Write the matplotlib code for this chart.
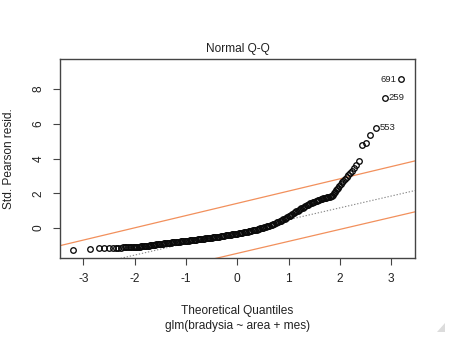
import matplotlib
matplotlib.use("Agg")
import matplotlib.pyplot as plt
from matplotlib.patches import Polygon

plt.rcParams['font.family'] = ['Liberation Sans', 'DejaVu Sans']

# ---- data ----
# lower tail (individually visible circles)
tail_low_q = [-3.20, -2.87, -2.70, -2.59, -2.50, -2.43, -2.37, -2.32, -2.27, -2.23,
              -2.19, -2.16, -2.13, -2.10, -2.07, -2.04, -2.02, -1.99, -1.97]
tail_low_r = [-1.28, -1.19, -1.15, -1.145, -1.14, -1.135, -1.13, -1.13, -1.125, -1.12,
              -1.12, -1.115, -1.11, -1.105, -1.10, -1.10, -1.095, -1.09, -1.088]

# dense central band
mid_q = [-1.950, -1.925, -1.900, -1.875, -1.850, -1.825, -1.800, -1.775, -1.750, -1.725,
         -1.700, -1.675, -1.650, -1.625, -1.600, -1.575, -1.550, -1.525, -1.500, -1.475,
         -1.450, -1.425, -1.400, -1.375, -1.350, -1.325, -1.300, -1.275, -1.250, -1.225,
         -1.200, -1.175, -1.150, -1.125, -1.100, -1.075, -1.050, -1.025, -1.000, -0.975,
         -0.950, -0.925, -0.900, -0.875, -0.850, -0.825, -0.800, -0.775, -0.750, -0.725,
         -0.700, -0.675, -0.650, -0.625, -0.600, -0.575, -0.550, -0.525, -0.500, -0.475,
         -0.450, -0.425, -0.400, -0.375, -0.350, -0.325, -0.300, -0.275, -0.250, -0.225,
         -0.200, -0.175, -0.150, -0.125, -0.100, -0.075, -0.050, -0.025, 0.000, 0.025,
         0.050, 0.075, 0.100, 0.125, 0.150, 0.175, 0.200, 0.225, 0.250, 0.275,
         0.300, 0.325, 0.350, 0.375, 0.400, 0.425, 0.450, 0.475, 0.500, 0.525,
         0.550, 0.575, 0.600, 0.625, 0.650, 0.675, 0.700, 0.725, 0.750, 0.775,
         0.800, 0.825, 0.850, 0.875, 0.900, 0.925, 0.950, 0.975, 1.000, 1.025,
         1.050, 1.075, 1.100, 1.125, 1.150, 1.175, 1.200, 1.225, 1.250, 1.275,
         1.300, 1.325, 1.350, 1.375, 1.400, 1.425, 1.450, 1.475, 1.500, 1.525,
         1.550, 1.575, 1.600, 1.625, 1.650, 1.675, 1.700, 1.725, 1.750, 1.775,
         1.800, 1.825, 1.850]
mid_r = [-1.085, -1.078, -1.070, -1.062, -1.055, -1.047, -1.040, -1.030, -1.020, -1.010,
         -1.000, -0.990, -0.980, -0.970, -0.960, -0.950, -0.940, -0.930, -0.920, -0.910,
         -0.900, -0.890, -0.880, -0.870, -0.860, -0.850, -0.840, -0.832, -0.825, -0.817,
         -0.810, -0.800, -0.790, -0.780, -0.770, -0.762, -0.755, -0.747, -0.740, -0.730,
         -0.720, -0.710, -0.700, -0.692, -0.685, -0.677, -0.670, -0.660, -0.650, -0.640,
         -0.630, -0.620, -0.610, -0.600, -0.590, -0.580, -0.570, -0.560, -0.550, -0.540,
         -0.530, -0.520, -0.510, -0.500, -0.490, -0.480, -0.470, -0.457, -0.445, -0.432,
         -0.420, -0.407, -0.395, -0.382, -0.370, -0.357, -0.345, -0.332, -0.320, -0.307,
         -0.295, -0.282, -0.270, -0.255, -0.240, -0.225, -0.210, -0.192, -0.175, -0.157,
         -0.140, -0.122, -0.105, -0.087, -0.070, -0.048, -0.025, -0.003, 0.020, 0.042,
         0.065, 0.087, 0.110, 0.137, 0.165, 0.192, 0.220, 0.252, 0.285, 0.317,
         0.350, 0.387, 0.425, 0.462, 0.500, 0.542, 0.585, 0.627, 0.670, 0.717,
         0.765, 0.812, 0.860, 0.907, 0.955, 1.002, 1.050, 1.092, 1.135, 1.177,
         1.220, 1.260, 1.300, 1.340, 1.380, 1.412, 1.445, 1.477, 1.510, 1.540,
         1.570, 1.600, 1.630, 1.655, 1.680, 1.705, 1.730, 1.750, 1.770, 1.790,
         1.810, 1.835, 1.860]

# upper tail
tail_high_q = [1.87, 1.89, 1.91, 1.93, 1.95, 1.97, 1.99, 2.02, 2.04, 2.07,
               2.10, 2.13, 2.16, 2.19, 2.23, 2.27, 2.32, 2.37, 2.43, 2.50,
               2.59, 2.70, 2.87, 3.20]
tail_high_r = [1.92, 2.00, 2.08, 2.16, 2.25, 2.33, 2.42, 2.52, 2.62, 2.72,
               2.83, 2.94, 3.05, 3.16, 3.30, 3.45, 3.62, 3.86, 4.78, 4.91,
               5.37, 5.77, 7.49, 8.57]

# labelled observations
id_labels = ["691", "259", "553"]
id_q = [3.20, 2.87, 2.70]
id_r = [8.57, 7.49, 5.77]
id_side = ["left", "right", "right"]

# reference lines (intercept, slope)
ref_line = (-0.20, 0.68)
band_upper = (1.42, 0.705)
band_lower = (-1.46, 0.69)

x_ticks = [-3, -2, -1, 0, 1, 2, 3]
y_ticks = [0, 2, 4, 6, 8]

# ---- figure ----
W, H = 474, 353
fig = plt.figure(figsize=(W / 100, H / 100), dpi=100)
ax = fig.add_axes([60 / W, 1 - 257.7 / H, (415 - 60) / W, (257.7 - 59.3) / H])

xlim = (-3.456, 3.464)
ylim = (-1.71, 9.71)
ax.set_xlim(*xlim)
ax.set_ylim(*ylim)

xs = [xlim[0], xlim[1]]
for (b, m), col, ls, lw in [(ref_line, '#888888', (0, (1.2, 1.6)), 0.8),
                            (band_upper, '#F2905C', '-', 0.9),
                            (band_lower, '#F2905C', '-', 0.9)]:
    ax.plot(xs, [b + m * v for v in xs], color=col, ls=ls, lw=lw, zorder=1)

q_all = tail_low_q + mid_q + tail_high_q
r_all = tail_low_r + mid_r + tail_high_r
ax.plot(q_all, r_all, ls='none', marker='o', ms=4.0, mfc='none', mec='#0a0a0a',
        mew=0.95, zorder=2)

for lab, q, r, side in zip(id_labels, id_q, id_r, id_side):
    if side == "left":
        ax.annotate(lab, (q, r), xytext=(-4, 0), textcoords='offset points',
                    ha='right', va='center', fontsize=6.8, color='#222222')
    else:
        ax.annotate(lab, (q, r), xytext=(3, 0), textcoords='offset points',
                    ha='left', va='center', fontsize=6.8, color='#222222')

ax.set_xticks(x_ticks)
ax.set_xticklabels([str(v) for v in x_ticks])
ax.set_yticks(y_ticks)
ax.set_yticklabels([str(v) for v in y_ticks], rotation=90, va='center')
ax.tick_params(axis='both', direction='out', length=4.8, width=0.8,
               color='#444444', labelsize=8.6, labelcolor='#222222')
ax.tick_params(axis='x', pad=6.5)
ax.tick_params(axis='y', pad=6.5)
for s in ax.spines.values():
    s.set_color('#444444')
    s.set_linewidth(1.0)

fig.text(237.5 / W, 1 - 48.7 / H, "Normal Q-Q", ha='center', va='center',
         fontsize=8.6, color='#222222')
fig.text(237.5 / W, 1 - 310.7 / H, "Theoretical Quantiles", ha='center',
         va='center', fontsize=8.6, color='#222222')
fig.text(237.5 / W, 1 - 325.5 / H, "glm(bradysia ~ area + mes)", ha='center',
         va='center', fontsize=8.6, color='#222222')
fig.text(9.5 / W, 1 - 158.5 / H, "Std. Pearson resid.", ha='center',
         va='center', rotation=90, fontsize=8.6, color='#222222')

# window resize grip in the corner
fig.patches.append(Polygon([(437 / W, 1 - 332 / H), (445 / W, 1 - 332 / H),
                            (445 / W, 1 - 323 / H)], closed=True,
                           transform=fig.transFigure, facecolor='#dcdcdc',
                           edgecolor='none'))

fig.savefig("out.png", dpi=100)
